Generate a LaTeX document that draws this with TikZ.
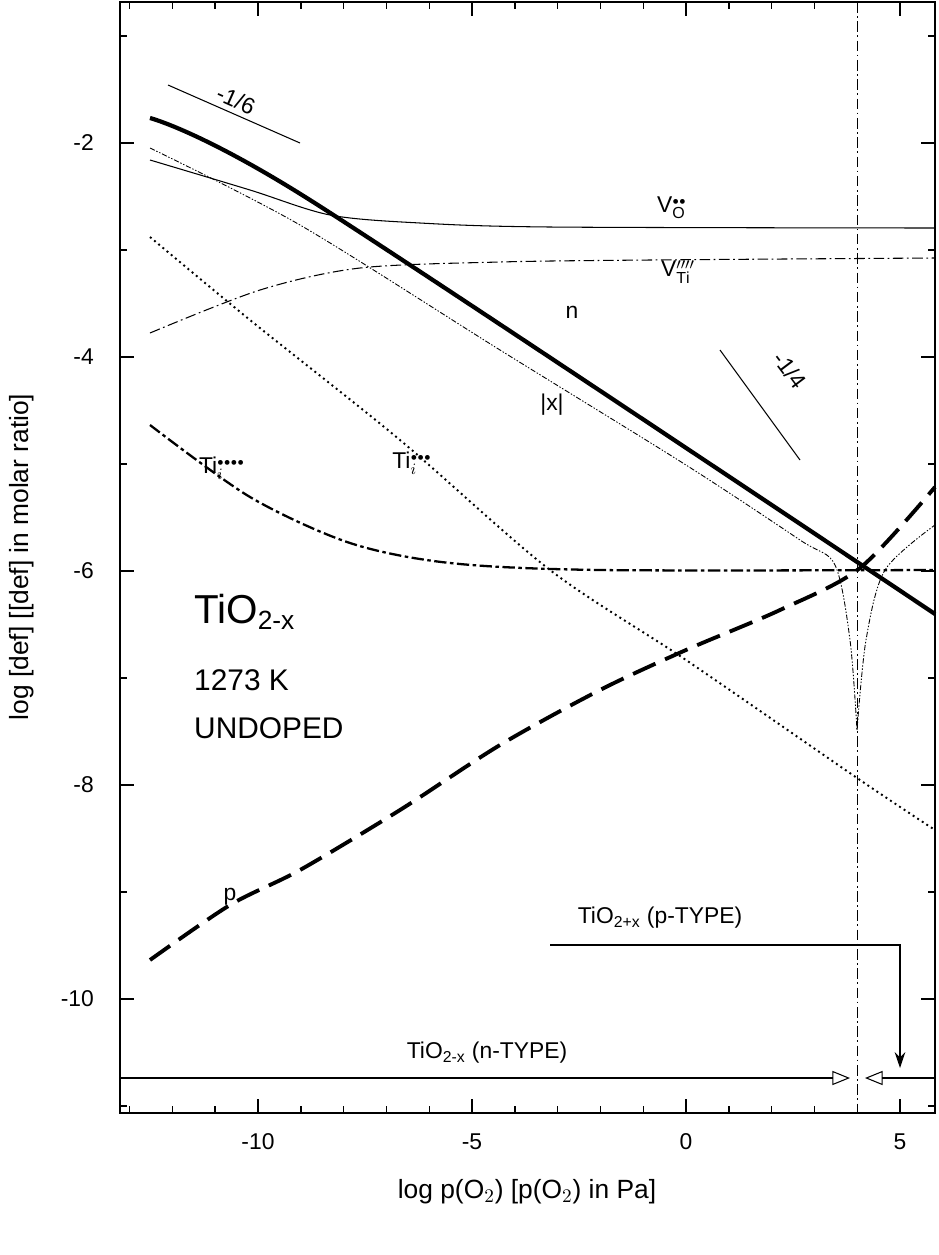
\documentclass[tikz,border=0pt]{standalone}
\usepackage{fontspec}
\setmainfont{Liberation Sans}
\usetikzlibrary{arrows.meta}
\begin{document}
\begin{tikzpicture}[x=0.02cm,y=-0.02cm,
  thinc/.style={line width=0.6pt},
  lab/.style={font=\fontsize{13}{15}\selectfont},
  big/.style={font=\fontsize{17}{20}\selectfont,anchor=west}]
\useasboundingbox (0,0) rectangle (938,1255);
% frame
\draw[line width=1.4pt] (120,2) rectangle (935,1113);
% x ticks
\foreach \v in {-13,...,5}{\draw[line width=0.8pt] ({686+42.8*\v},1113) -- ++(0,-7) ({686+42.8*\v},2) -- ++(0,7);}
\foreach \v in {-10,-5,0,5}{\draw[line width=0.8pt] ({686+42.8*\v},1113) -- ++(0,-14) ({686+42.8*\v},2) -- ++(0,14);
  \node[lab] at ({686+42.8*\v},1142) {\v};}
% y ticks
\foreach \d in {-1,...,-11}{\draw[line width=0.8pt] (120,{-71-107*\d}) -- ++(7,0) (935,{-71-107*\d}) -- ++(-7,0);}
\foreach \d in {-2,-4,-6,-8,-10}{\draw[line width=0.8pt] (120,{-71-107*\d}) -- ++(14,0) (935,{-71-107*\d}) -- ++(-14,0);
  \node[lab,anchor=east] at (100,{-71-107*\d}) {\d};}
\node[font=\fontsize{15}{18}\selectfont] at (527,1192) {log p(O$_2$) [p(O$_2$) in Pa]};
\node[font=\fontsize{15}{18}\selectfont,rotate=90] at (22,557) {log [def] [[def] in molar ratio]};
% vertical line
\draw[line width=0.4pt,dash pattern=on 6pt off 2pt on 1pt off 2pt] (857,2) -- (857,1113);
% curves
\draw[line width=2.4pt] plot[smooth] coordinates {(150,118) (310,200) (935,614)};
\draw[thinc] plot[smooth] coordinates {(150,160) (250,190) (330,215) (420,223) (550,227) (935,228)};
\draw[thinc,dash pattern=on 6pt off 2pt on 1pt off 2pt] plot[smooth] coordinates {(150,333) (260,290) (360,268) (500,262) (650,260) (935,258)};
\draw[line width=0.5pt,dash pattern=on 3pt off 1pt on 0.8pt off 1pt on 0.8pt off 1pt] plot[smooth] coordinates {(150,148) (300,225) (500,350) (686,465) (800,540) (835,565) (850,640) (857,730)};
\draw[line width=0.5pt,dash pattern=on 3pt off 1pt on 0.8pt off 1pt on 0.8pt off 1pt] plot[smooth] coordinates {(857,730) (866,640) (885,570) (935,525)};
\draw[line width=1.3pt,dash pattern=on 7pt off 2pt on 2pt off 2pt] plot[smooth] coordinates {(150,425) (250,497) (350,543) (450,563) (600,570) (935,570)};
\draw[line width=1.1pt,dotted] plot[smooth] coordinates {(150,237) (250,320) (400,440) (550,570) (686,660) (860,780) (935,830)};
\draw[line width=2.2pt,dash pattern=on 14pt off 6pt] plot[smooth] coordinates {(150,960) (230,905) (300,870) (400,810) (500,745) (600,690) (686,650) (780,610) (860,568) (935,487)};
% slope markers
\draw[thinc] (168,85) -- (300,143);
\node[lab,rotate=-24] at (236,100) {-1/6};
\draw[thinc] (720,350) -- (800,460);
\node[lab,rotate=-53] at (790,370) {-1/4};
% labels
\node[lab] at (672,208) {V$_{\mathrm{O}}^{\scriptscriptstyle\bullet\bullet}$};
\node[lab] at (678,272) {V$_{\mathrm{Ti}}^{\prime\prime\prime\prime}$};
\node[lab] at (572,312) {n};
\node[lab] at (552,405) {|x|};
\node[lab] at (222,468) {Ti$_i^{\scriptscriptstyle\bullet\bullet\bullet\bullet}$};
\node[lab] at (412,463) {Ti$_i^{\scriptscriptstyle\bullet\bullet\bullet}$};
\node[lab] at (230,897) {p};
\node[big,font=\fontsize{23}{26}\selectfont] at (188,612) {TiO$_{\mbox{\fontsize{15}{17}\selectfont 2-x}}$};
\node[big] at (188,680) {1273 K};
\node[big] at (188,728) {UNDOPED};
% type arrows
\coordinate (nl) at (120,1078); \coordinate (nr) at (850,1078);
\coordinate (pl) at (935,1078); \coordinate (pr) at (865,1078);
\draw[thinc,-{Triangle[open,length=10pt,width=8pt]}] (nl) -- (nr);
\draw[thinc,-{Triangle[open,length=10pt,width=8pt]}] (pl) -- (pr);
\node[lab] at (487,1053) {TiO$_{\mbox{\fontsize{9}{11}\selectfont 2-x}}$ (n-TYPE)};
\node[lab] at (660,918) {TiO$_{\mbox{\fontsize{9}{11}\selectfont 2+x}}$ (p-TYPE)};
\coordinate (ps) at (550,945); \coordinate (pe) at (900,1068);
\draw[thinc,-{Stealth[length=9pt,width=6pt]}] (ps) -| (pe);
\end{tikzpicture}
\end{document}
